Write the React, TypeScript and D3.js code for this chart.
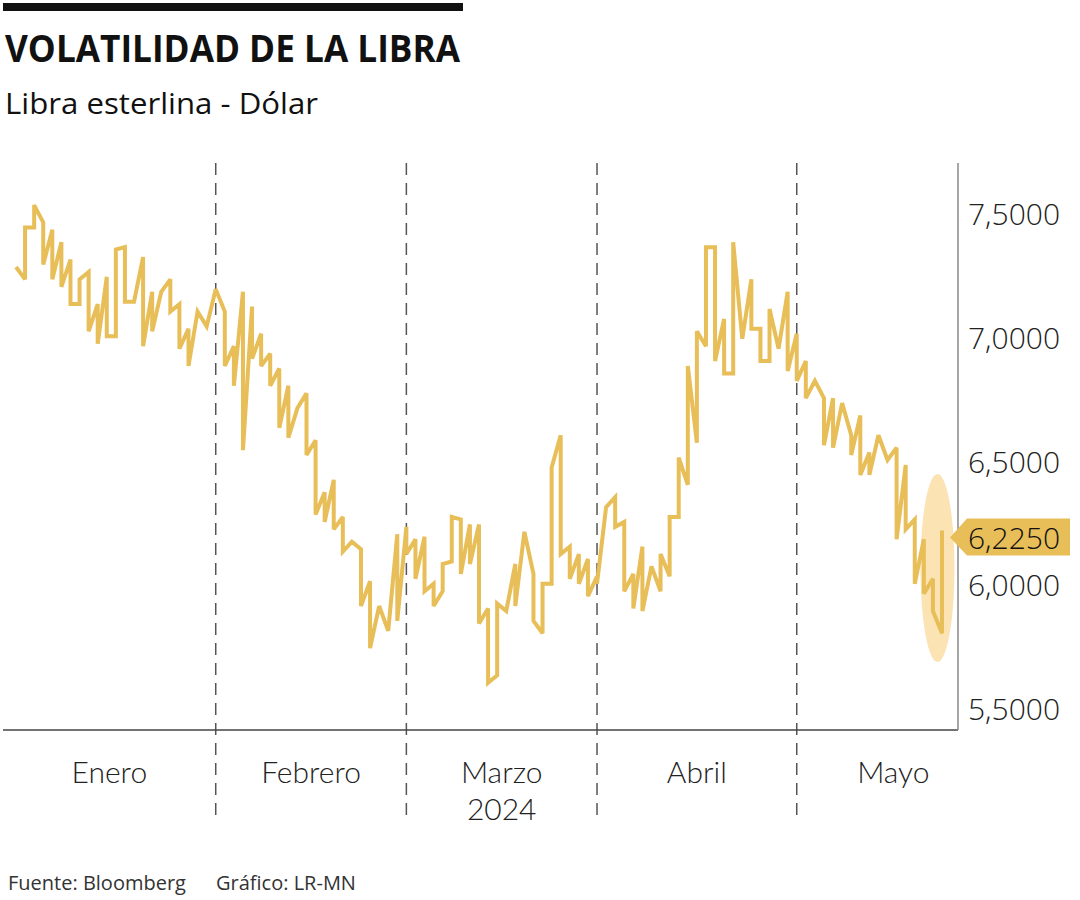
import React, { useRef, useEffect } from 'react';
import * as d3 from 'd3';

// Cada día hábil tiene dos lecturas [primera, segunda] que se dibujan en la misma x
const meses = ['Enero', 'Febrero', 'Marzo', 'Abril', 'Mayo'];
const anio = '2024';

const enero = [
  [7.29, 7.29], [7.24, 7.45], [7.45, 7.54], [7.47, 7.30], [7.44, 7.24], [7.39, 7.21],
  [7.32, 7.14], [7.14, 7.24], [7.27, 7.03], [7.14, 6.98], [7.25, 7.01], [7.01, 7.36],
  [7.37, 7.15], [7.15, 7.15], [7.33, 6.97], [7.19, 7.03], [7.19, 7.19], [7.24, 7.11],
  [7.14, 6.96], [7.04, 6.89], [7.11, 7.11], [7.05, 7.05],
];
const febrero = [
  [7.20, 7.20], [7.11, 6.89], [6.97, 6.81], [7.19, 6.55], [7.13, 6.92], [7.02, 6.89],
  [6.94, 6.81], [6.88, 6.64], [6.81, 6.60], [6.72, 6.72], [6.78, 6.53], [6.59, 6.29],
  [6.38, 6.26], [6.43, 6.23], [6.28, 6.14], [6.18, 6.18], [6.15, 5.92], [6.02, 5.75],
  [5.92, 5.92], [5.82, 5.82], [6.21, 5.86],
];
const marzo = [
  [6.24, 6.13], [6.19, 6.03], [6.20, 5.98], [6.01, 5.92], [5.98, 6.09], [6.10, 6.28],
  [6.27, 6.05], [6.25, 6.09], [6.25, 5.85], [5.91, 5.61], [5.64, 5.93], [5.90, 5.90],
  [6.09, 5.92], [6.22, 6.22], [6.05, 5.86], [5.81, 6.01], [6.01, 6.48], [6.61, 6.13],
  [6.16, 6.03], [6.13, 6.01], [6.11, 5.96],
];
const abril = [
  [6.04, 6.01], [6.32, 6.32], [6.36, 6.24], [6.26, 5.98], [6.05, 5.91], [6.16, 5.90],
  [6.08, 6.08], [5.98, 6.13], [6.04, 6.28], [6.28, 6.52], [6.41, 6.89], [6.58, 7.03],
  [6.97, 7.37], [7.37, 6.91], [7.08, 6.86], [6.86, 7.39], [7.00, 7.00], [7.24, 7.04],
  [7.04, 6.91], [6.91, 7.12], [6.96, 6.96], [7.19, 6.87],
];
const mayo = [
  [7.02, 6.83], [6.91, 6.76], [6.83, 6.83], [6.76, 6.57], [6.76, 6.56], [6.74, 6.74],
  [6.61, 6.53], [6.69, 6.45], [6.54, 6.45], [6.61, 6.61], [6.51, 6.51], [6.56, 6.19],
  [6.49, 6.23], [6.27, 6.01], [6.19, 5.97], [6.03, 5.90], [5.81, 6.225],
];

const ticksY = [5.5, 6.0, 6.5, 7.0, 7.5];

const App = () => {
  const svgRef = useRef<SVGSVGElement>(null);

  useEffect(() => {
    const width = 1080;
    const height = 900;
    const svg = d3.select(svgRef.current)
      .attr('width', width)
      .attr('height', height);

    svg.selectAll('*').remove();

    const font = "'Open Sans', 'Noto Sans', sans-serif";
    const fontMes = "Lato, 'Open Sans', sans-serif";
    const lineColor = '#E8BE58';

    const porMes = [enero, febrero, marzo, abril, mayo];
    const dias = porMes.flat();
    // índice de inicio de cada mes
    const inicios: number[] = [];
    let acc = 0;
    porMes.forEach(m => { inicios.push(acc); acc += m.length; });

    const puntos: { i: number; v: number }[] = [];
    dias.forEach((d, i) => {
      puntos.push({ i, v: d[0] });
      puntos.push({ i, v: d[1] });
    });

    const xScale = d3.scaleLinear().domain([0, dias.length - 1]).range([16, 942]);
    const yScale = d3.scaleLinear().domain([5.5, 7.5]).range([710, 215]);

    const top = 163;
    const axisY = 730;
    const axisX = 958;

    // barra superior y títulos
    svg.append('rect')
      .attr('x', 3).attr('y', 3).attr('width', 460).attr('height', 8)
      .attr('fill', '#111');

    svg.append('text')
      .attr('x', 5).attr('y', 62)
      .attr('font-family', font).attr('font-weight', 700).attr('font-size', 38)
      .attr('textLength', 455).attr('lengthAdjust', 'spacingAndGlyphs')
      .attr('fill', '#111')
      .text('VOLATILIDAD DE LA LIBRA');

    svg.append('text')
      .attr('x', 5).attr('y', 114)
      .attr('font-family', font).attr('font-size', 29)
      .attr('textLength', 313).attr('lengthAdjust', 'spacingAndGlyphs')
      .attr('fill', '#111')
      .text('Libra esterlina - Dólar');

    // divisiones de meses
    const divisiones = inicios.slice(1).map(i => xScale(i));
    svg.selectAll('.div-mes')
      .data(divisiones)
      .enter()
      .append('line')
      .attr('class', 'div-mes')
      .attr('x1', d => d).attr('x2', d => d)
      .attr('y1', top).attr('y2', 822)
      .attr('stroke', '#555')
      .attr('stroke-width', 1.5)
      .attr('stroke-dasharray', '12 8');

    // ejes
    svg.append('line')
      .attr('x1', 3).attr('x2', axisX)
      .attr('y1', axisY).attr('y2', axisY)
      .attr('stroke', '#444').attr('stroke-width', 1.5);

    svg.append('line')
      .attr('x1', axisX).attr('x2', axisX)
      .attr('y1', top).attr('y2', axisY)
      .attr('stroke', '#888').attr('stroke-width', 1.5);

    const yAxis = d3.axisRight(yScale)
      .tickValues(ticksY)
      .tickSize(0)
      .tickPadding(10)
      .tickFormat(d => d3.format('.4f')(d as number).replace('.', ','));

    const gy = svg.append('g')
      .attr('transform', `translate(${axisX}, 0)`)
      .call(yAxis);
    gy.select('.domain').remove();
    gy.selectAll('text')
      .attr('font-family', font)
      .attr('font-size', 30)
      .attr('font-weight', 300)
      .attr('fill', '#222');

    // etiquetas de meses (Marzo lleva el año debajo)
    const bordes = [3, ...divisiones, 990];
    const g = svg.append('g');
    meses.forEach((m, k) => {
      const cx = (bordes[k] + bordes[k + 1]) / 2;
      g.append('text')
        .attr('x', cx).attr('y', 783)
        .attr('text-anchor', 'middle')
        .attr('font-family', fontMes).attr('font-size', 30).attr('font-weight', 300)
        .attr('fill', '#222')
        .text(m);
      if (m === 'Marzo') {
        g.append('text')
          .attr('x', cx).attr('y', 820)
          .attr('text-anchor', 'middle')
          .attr('font-family', fontMes).attr('font-size', 30).attr('font-weight', 300)
          .attr('fill', '#222')
          .text(anio);
      }
    });

    // resalte del último tramo
    const ultimo = dias[dias.length - 1][1];
    svg.append('ellipse')
      .attr('cx', xScale(dias.length - 1.5))
      .attr('cy', 568)
      .attr('rx', 17).attr('ry', 94)
      .attr('fill', '#FBE3B3');

    // línea
    const line = d3.line<{ i: number; v: number }>()
      .x(d => xScale(d.i))
      .y(d => yScale(d.v));

    svg.append('path')
      .datum(puntos)
      .attr('d', line)
      .attr('fill', 'none')
      .attr('stroke', lineColor)
      .attr('stroke-width', 4)
      .attr('stroke-linejoin', 'miter')
      .attr('stroke-miterlimit', 3);

    // etiqueta del último valor
    const ly = yScale(ultimo) + 7;
    svg.append('path')
      .attr('d', `M950,${ly} L967,${ly - 19} L1070,${ly - 19} L1070,${ly + 18} L967,${ly + 18} Z`)
      .attr('fill', lineColor);
    svg.append('text')
      .attr('x', 968).attr('y', ly + 11)
      .attr('font-family', font).attr('font-size', 30).attr('font-weight', 300)
      .attr('fill', '#111')
      .text(d3.format('.4f')(ultimo).replace('.', ','));

    // fuente
    svg.append('text')
      .attr('x', 8).attr('y', 890)
      .attr('font-family', font).attr('font-size', 20)
      .attr('fill', '#333')
      .text('Fuente: Bloomberg');
    svg.append('text')
      .attr('x', 216).attr('y', 890)
      .attr('font-family', font).attr('font-size', 20)
      .attr('fill', '#333')
      .text('Gráfico: LR-MN');
  }, []);

  return (
    <svg ref={svgRef} style={{ position: 'absolute', left: 0, top: 0 }}></svg>
  );
};

export default App;
